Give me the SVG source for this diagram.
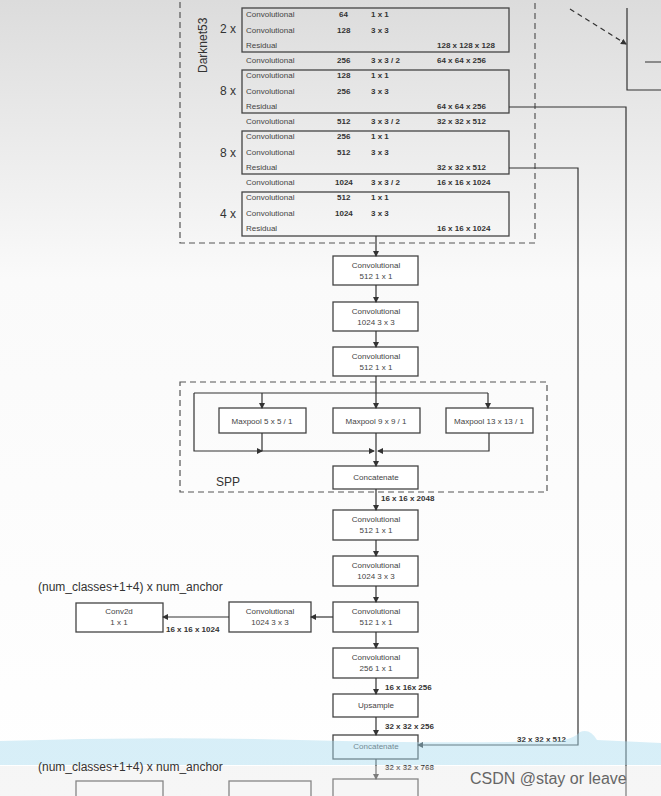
<svg xmlns="http://www.w3.org/2000/svg" width="661" height="796" viewBox="0 0 661 796">
<defs>
<linearGradient id="bg" x1="0" y1="0" x2="0" y2="1"><stop offset="0" stop-color="#dcdcdc"/><stop offset="0.35" stop-color="#fafafa"/><stop offset="1" stop-color="#ffffff"/></linearGradient>
<marker id="ar" markerWidth="6" markerHeight="6" refX="5" refY="3" orient="auto" markerUnits="userSpaceOnUse"><path d="M0,0 L6,3 L0,6 z" fill="#333"/></marker>
<style>
.b{fill:#fff;stroke:#444;stroke-width:1.3}
.rb{fill:none;stroke:#444;stroke-width:1.3}
.d{fill:none;stroke:#555;stroke-width:1.2;stroke-dasharray:6,4}
.l{fill:none;stroke:#333;stroke-width:1.2}
.t{font-family:"Liberation Sans",Arial,sans-serif;font-size:8px;fill:#444}
.s{font-family:"Liberation Sans",Arial,sans-serif;font-size:8px;fill:#333;font-weight:bold}
.m{font-family:"Liberation Sans",Arial,sans-serif;font-size:12px;fill:#333}
.c{text-anchor:middle}
</style>
</defs>
<rect width="661" height="796" fill="url(#bg)"/>
<g id="darknet53">
<rect class="d" x="180" y="-2" width="355" height="245"/>
<text class="m" transform="translate(207,73) rotate(-90)" font-size="14">Darknet53</text>
<text class="m" x="220" y="33">2 x</text><text class="m" x="220" y="95">8 x</text><text class="m" x="220" y="157">8 x</text><text class="m" x="220" y="218">4 x</text>
<rect class="rb" x="242" y="8" width="267" height="44"/><rect class="rb" x="242" y="70" width="267" height="43"/><rect class="rb" x="242" y="131" width="267" height="43"/><rect class="rb" x="242" y="192" width="267" height="44"/>
<g class="t">
<text x="246" y="17">Convolutional</text><text x="246" y="33">Convolutional</text><text x="246" y="48">Residual</text>
<text x="246" y="63">Convolutional</text>
<text x="246" y="78">Convolutional</text><text x="246" y="94">Convolutional</text><text x="246" y="109">Residual</text>
<text x="246" y="124">Convolutional</text>
<text x="246" y="139">Convolutional</text><text x="246" y="155">Convolutional</text><text x="246" y="170">Residual</text>
<text x="246" y="185">Convolutional</text>
<text x="246" y="200">Convolutional</text><text x="246" y="216">Convolutional</text><text x="246" y="231">Residual</text>
</g>
<g class="s">
<text x="339" y="17">64</text><text x="371" y="17">1 x 1</text>
<text x="337" y="33">128</text><text x="371" y="33">3 x 3</text><text x="437" y="48">128 x 128 x 128</text>
<text x="337" y="63">256</text><text x="371" y="63">3 x 3 / 2</text><text x="437" y="63">64 x 64 x 256</text>
<text x="337" y="78">128</text><text x="371" y="78">1 x 1</text>
<text x="337" y="94">256</text><text x="371" y="94">3 x 3</text><text x="437" y="109">64 x 64 x 256</text>
<text x="337" y="124">512</text><text x="371" y="124">3 x 3 / 2</text><text x="437" y="124">32 x 32 x 512</text>
<text x="337" y="139">256</text><text x="371" y="139">1 x 1</text>
<text x="337" y="155">512</text><text x="371" y="155">3 x 3</text><text x="437" y="170">32 x 32 x 512</text>
<text x="335" y="185">1024</text><text x="371" y="185">3 x 3 / 2</text><text x="437" y="185">16 x 16 x 1024</text>
<text x="337" y="200">512</text><text x="371" y="200">1 x 1</text>
<text x="335" y="216">1024</text><text x="371" y="216">3 x 3</text><text x="437" y="231">16 x 16 x 1024</text>
</g>
</g>
<g id="spp-box"><rect class="d" x="180" y="382" width="367" height="110"/><text class="m" x="216" y="486" font-size="14">SPP</text></g>
<g id="nodes" class="t c" xml:space="preserve">
<g id="n1"><rect class="b" x="333" y="256" width="85" height="29"/><text x="376" y="268">Convolutional</text><text x="376" y="279">512   1 x 1</text></g>
<g id="n2"><rect class="b" x="333" y="302" width="85" height="29"/><text x="376" y="314">Convolutional</text><text x="376" y="325">1024   3 x 3</text></g>
<g id="n3"><rect class="b" x="333" y="347" width="85" height="29"/><text x="376" y="359">Convolutional</text><text x="376" y="370">512   1 x 1</text></g>
<g id="mp1"><rect class="b" x="219" y="408" width="87" height="25"/><text x="262" y="424">Maxpool  5 x 5 / 1</text></g>
<g id="mp2"><rect class="b" x="333" y="408" width="87" height="25"/><text x="376" y="424">Maxpool  9 x 9 / 1</text></g>
<g id="mp3"><rect class="b" x="446" y="408" width="87" height="25"/><text x="489" y="424">Maxpool  13 x 13 / 1</text></g>
<g id="cat1"><rect class="b" x="333" y="466" width="85" height="23"/><text x="376" y="480">Concatenate</text></g>
<g id="n4"><rect class="b" x="333" y="510" width="85" height="30"/><text x="376" y="522">Convolutional</text><text x="376" y="533">512   1 x 1</text></g>
<g id="n5"><rect class="b" x="333" y="556" width="85" height="30"/><text x="376" y="568">Convolutional</text><text x="376" y="579">1024   3 x 3</text></g>
<g id="n6"><rect class="b" x="333" y="602" width="85" height="30"/><text x="376" y="614">Convolutional</text><text x="376" y="625">512   1 x 1</text></g>
<g id="n7"><rect class="b" x="229" y="602" width="82" height="30"/><text x="270" y="614">Convolutional</text><text x="270" y="625">1024   3 x 3</text></g>
<g id="n8"><rect class="b" x="76" y="603" width="87" height="29"/><text x="119" y="614">Conv2d</text><text x="119" y="625">1 x 1</text></g>
<g id="n9"><rect class="b" x="333" y="648" width="85" height="30"/><text x="376" y="660">Convolutional</text><text x="376" y="671">256   1 x 1</text></g>
<g id="n10"><rect class="b" x="333" y="694" width="85" height="23"/><text x="376" y="708">Upsample</text></g>
<g id="cat2"><rect class="b" x="333" y="735" width="85" height="24"/><text x="376" y="749">Concatenate</text></g>
<g id="bot"><rect class="b" x="333" y="779" width="85" height="30"/><rect class="b" x="229" y="781" width="82" height="30"/><rect class="b" x="76" y="781" width="87" height="30"/></g>
</g>
<g id="connectors">
<path class="l" d="M376,236 V256" marker-end="url(#ar)"/>
<path class="l" d="M376,285 V302" marker-end="url(#ar)"/>
<path class="l" d="M376,331 V347" marker-end="url(#ar)"/>
<path class="l" d="M376,376 V408" marker-end="url(#ar)"/>
<path class="l" d="M194,393 H488"/>
<path class="l" d="M262,393 V408" marker-end="url(#ar)"/><path class="l" d="M488,393 V408" marker-end="url(#ar)"/>
<path class="l" d="M194,393 V451 H262" marker-end="url(#ar)"/>
<path class="l" d="M262,433 V451 H374" marker-end="url(#ar)"/>
<path class="l" d="M489,433 V451 H378" marker-end="url(#ar)"/>
<path class="l" d="M376,433 V466" marker-end="url(#ar)"/>
<path class="l" d="M376,489 V510" marker-end="url(#ar)"/>
<path class="l" d="M376,540 V556" marker-end="url(#ar)"/>
<path class="l" d="M376,586 V602" marker-end="url(#ar)"/>
<path class="l" d="M333,617 H311" marker-end="url(#ar)"/>
<path class="l" d="M229,617 H163" marker-end="url(#ar)"/>
<path class="l" d="M376,632 V648" marker-end="url(#ar)"/>
<path class="l" d="M376,678 V694" marker-end="url(#ar)"/>
<path class="l" d="M376,717 V735" marker-end="url(#ar)"/>
<path class="l" d="M376,759 V779" marker-end="url(#ar)"/>
<path class="l" d="M509,168 H578 V745 H418" marker-end="url(#ar)"/>
<path class="l" d="M509,107 H626 V796"/>
<path class="l" d="M627,8 V90 H661 M645,62 H661"/>
<path class="l" d="M570,9 L626,44" stroke-dasharray="5,4" marker-end="url(#ar)"/>
</g>
<g id="labels" class="s">
<text x="381" y="501">16 x 16 x 2048</text>
<text x="166" y="632">16 x 16 x 1024</text>
<text x="385" y="690">16 x 16x 256</text>
<text x="385" y="729">32 x 32 x 256</text>
<text x="517" y="742">32 x 32 x 512</text>
<text x="385" y="770">32 x 32 x 768</text>
</g>
<text class="m" x="38" y="591" font-size="10">(num_classes+1+4) x num_anchor</text>
<path d="M0,741 Q150,736 300,740 T560,741 Q575,738 580,732 Q590,728 597,740 L661,743 V765 H0 Z" fill="#a8dcf0" opacity="0.45"/>
<rect x="0" y="766" width="661" height="30" fill="#e8e8e8" opacity="0.4"/>
<text class="m" x="38" y="771" font-size="10">(num_classes+1+4) x num_anchor</text>
<text x="470" y="784" font-family="'Liberation Sans',Arial,sans-serif" font-size="16" fill="#666">CSDN @stay or leave</text>
</svg>
